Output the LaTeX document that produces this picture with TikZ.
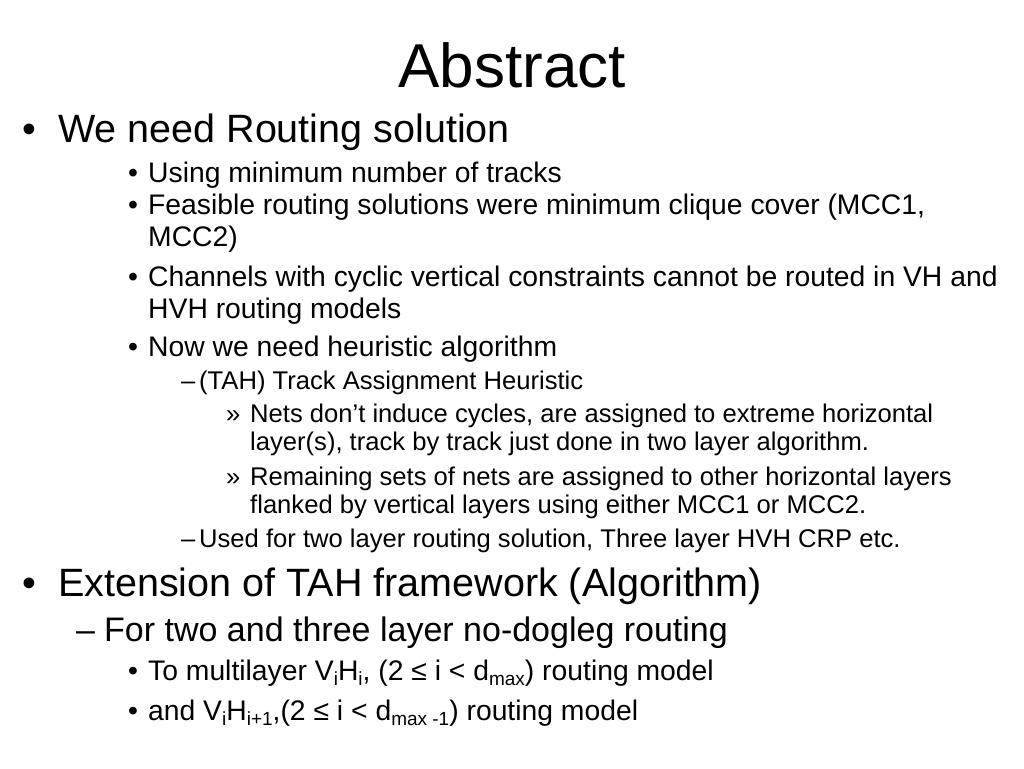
\documentclass[tikz,border=0pt]{standalone}
\usepackage{fontspec}
\setmainfont{Liberation Sans}
\newcommand{\sbs}[1]{\textrm{\fontsize{19}{19}\selectfont #1}}
\begin{document}
\begin{tikzpicture}[x=1pt,y=-1pt,
  t/.style={anchor=base west,inner sep=0pt},
  title/.style={anchor=base,inner sep=0pt,font=\fontsize{62}{64}\selectfont},
  la/.style={t,font=\fontsize{39.5}{44}\selectfont},
  lb/.style={t,font=\fontsize{28.3}{32}\selectfont,align=left},
  lc/.style={t,font=\fontsize{25.6}{30}\selectfont,align=left}]
\useasboundingbox (0,0) rectangle (1024,768);
\node[title] (ti) at (512,87) {Abstract};
\node[la] (b1) at (22,142) {•};
\node[la] (a1) at (58,142) {We need Routing solution};
\node[lb] (b2) at (128,182) {•};
\node[lb] (a2) at (148,182) {Using minimum number of tracks};
\node[lb] (b3) at (128,214) {•};
\node[lb] (a3) at (148,214) {Feasible routing solutions were minimum clique cover (MCC1,};
\node[lb] (a3b) at (148,246) {MCC2)};
\node[lb] (b4) at (128,286) {•};
\node[lb] (a4) at (148,286) {Channels with cyclic vertical constraints cannot be routed in VH and};
\node[lb] (a4b) at (148,318) {HVH routing models};
\node[lb] (b5) at (128,356) {•};
\node[lb] (a5) at (148,356) {Now we need heuristic algorithm};
\node[lc] (b6) at (181,389) {–};
\node[lc] (a6) at (199,389) {(TAH) Track Assignment Heuristic};
\node[lc] (b7) at (226,422) {»};
\node[lc] (a7) at (250,422) {Nets don’t induce cycles, are assigned to extreme horizontal};
\node[lc] (a7b) at (250,450) {layer(s), track by track just done in two layer algorithm.};
\node[lc] (b8) at (226,485) {»};
\node[lc] (a8) at (250,485) {Remaining sets of nets are assigned to other horizontal layers};
\node[lc] (a8b) at (250,513) {flanked by vertical layers using either MCC1 or MCC2.};
\node[lc] (b9) at (181,547) {–};
\node[lc] (a9) at (199,547) {Used for two layer routing solution, Three layer HVH CRP etc.};
\node[la] (b10) at (22,596) {•};
\node[la] (a10) at (58,596) {Extension of TAH framework (Algorithm)};
\node[t,font=\fontsize{34}{38}\selectfont] (b11) at (76,641) {–};
\node[t,font=\fontsize{34}{38}\selectfont] (a11) at (104,641) {For two and three layer no-dogleg routing};
\node[lb] (b12) at (128,680) {•};
\node[lb] (a12) at (148,680) {To multilayer V\raisebox{-5pt}{\sbs{i}}H\raisebox{-5pt}{\sbs{i}}, (2 ≤ i < d\raisebox{-5pt}{\sbs{max}}) routing model};
\node[lb] (b13) at (128,720) {•};
\node[lb] (a13) at (148,720) {and V\raisebox{-5pt}{\sbs{i}}H\raisebox{-5pt}{\sbs{i+1}},(2 ≤ i < d\raisebox{-5pt}{\sbs{max -1}}) routing model};
\end{tikzpicture}
\end{document}
